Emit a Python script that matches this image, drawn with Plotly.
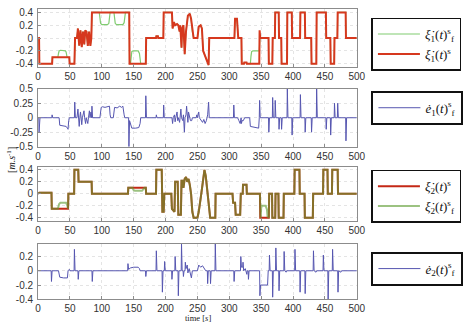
import plotly.graph_objects as go

# ---------------------------------------------------------------- data
# Each series is a list of (time [s], value) samples.
XI1 = [(0, 0), (1.5, 0), (2, -0.4), (22, -0.4), (22.5, -0.3), (49, -0.3), (49.5, -0.4), (57, -0.4), (58, 0), (61, 0),
       (62.5, 0.15), (64.5, -0.12), (66.5, 0.12), (68.5, -0.14), (70.5, 0.1), (72.5, -0.1), (74, 0.12), (76, 0.1),
       (78, -0.12), (80, 0.1), (82, -0.12), (83.5, 0),
       (84.5, 0.4), (143, 0.4), (143.5, -0.4), (169, -0.4), (169.5, 0), (185, 0), (185.5, 0.03), (188, 0.03), (188.5, 0),
       (196.5, 0), (197, 0.4), (210, 0.4), (211, 0.15), (213, 0.25), (215, 0.2), (218, 0.22), (220, 0.2), (222, 0.1),
       (223, 0.2), (225, -0.15), (226, 0.15), (228, 0.2), (230, -0.25), (232, 0.1), (235, 0.35), (238, 0.38), (240, 0.3),
       (242, 0.1), (244, 0), (250, 0), (252, 0.18), (255, 0.2), (257, 0.15), (259, -0.2), (262, -0.28), (265, -0.35),
       (267.5, -0.42), (268.5, 0), (308, 0), (309, 0.3), (312, 0.3), (314, 0), (319, 0), (319.5, -0.4), (323, -0.4),
       (323.5, -0.38), (327, -0.38), (327.5, -0.4), (347, -0.4), (347.5, 0.12), (348.5, 0), (361.5, 0), (362, -0.4),
       (367.5, -0.4), (368, 0), (371.5, 0), (372, 0.4), (377.5, 0.4), (378, 0), (381.5, 0), (382, -0.4), (390.5, -0.4),
       (391, 0.4), (398, 0.4), (398.5, 0), (411, 0), (411.5, 0.4), (418.5, 0.4), (419, 0), (428.5, 0), (429, -0.4),
       (436.5, -0.4), (437, 0.4), (451.5, 0.4), (452, 0), (458.5, 0), (459, -0.4), (464.5, -0.4), (465, 0), (469.5, 0),
       (470, 0.4), (482.5, 0.4), (483, 0), (500, 0)]

XI1_F = [(0, 0), (1.5, 0), (2, -0.4), (22, -0.4), (22.5, -0.3), (31, -0.3), (32, -0.24), (33, -0.2), (35, -0.19),
         (43, -0.2), (44, -0.22), (45.5, -0.3), (49, -0.3), (49.5, -0.4), (57, -0.4), (58, 0), (61, 0),
         (62.5, 0.15), (64.5, -0.12), (66.5, 0.12), (68.5, -0.14), (70.5, 0.1), (72.5, -0.1), (74, 0.12), (76, 0.1),
         (78, -0.12), (80, 0.1), (82, -0.12),
         (83.5, 0), (84.5, 0.4), (96, 0.4), (97, 0.3), (98, 0.23), (100, 0.21), (109, 0.21), (111, 0.23), (112, 0.32),
         (113, 0.4), (119, 0.4), (120, 0.3), (121, 0.23), (123, 0.21), (133, 0.21), (135, 0.24), (136, 0.32),
         (137, 0.4), (143, 0.4), (143.5, -0.4), (145, -0.4), (146, -0.28), (147, -0.21), (149, -0.2), (157, -0.2),
         (159, -0.24), (160, -0.36), (161, -0.4), (169, -0.4), (169.5, 0), (185, 0), (185.5, 0.03), (188, 0.03),
         (188.5, 0), (196.5, 0), (197, 0.4), (210, 0.4), (211, 0.15), (213, 0.25), (215, 0.2), (218, 0.22), (220, 0.2),
         (222, 0.1), (223, 0.2), (225, -0.15), (226, 0.15), (228, 0.2), (230, -0.25), (232, 0.1), (235, 0.35),
         (238, 0.38), (240, 0.3), (242, 0.1), (244, 0), (250, 0), (252, 0.18), (255, 0.2), (257, 0.15), (259, -0.2),
         (262, -0.28), (265, -0.35), (267.5, -0.42), (268.5, 0), (308, 0), (309, 0.3), (312, 0.3), (314, 0), (319, 0),
         (319.5, -0.4), (323, -0.4), (323.5, -0.38), (327, -0.38), (327.5, -0.4), (333, -0.4), (334, -0.28),
         (335, -0.21), (337, -0.2), (346, -0.2), (347, -0.2), (348, 0), (361.5, 0), (362, -0.4), (367.5, -0.4),
         (368, 0), (371.5, 0), (372, 0.4), (377.5, 0.4), (378, 0), (381.5, 0), (382, -0.4), (390.5, -0.4), (391, 0.4),
         (398, 0.4), (398.5, 0), (411, 0), (411.5, 0.4), (418.5, 0.4), (419, 0), (428.5, 0), (429, -0.4),
         (436.5, -0.4), (437, 0.4), (451.5, 0.4), (452, 0), (458.5, 0), (459, -0.4), (464.5, -0.4), (465, 0),
         (469.5, 0), (470, 0.4), (482.5, 0.4), (483, 0), (500, 0)]

E1 = [(0, 0), (1, 0), (1.5, -0.25), (2.5, -0.05), (3, 0), (21.5, 0), (22, 0.05), (23, 0), (33, 0), (34, -0.13),
      (40, -0.14), (44, -0.15), (46, -0.18), (47, -0.2), (48, -0.05), (49, 0), (57, 0), (57.5, 0.27), (58.5, 0),
      (61, 0), (62.5, 0.15), (63.5, 0), (64.5, -0.15), (65.5, 0), (66.5, 0.1), (67.5, 0), (68.5, -0.12), (69.5, 0),
      (72, 0.12), (73, 0), (74.5, -0.1), (75.5, 0), (78, -0.1), (79, 0), (80.5, 0.12), (81.5, 0), (83, 0.1), (84, 0),
      (84.5, 0.2), (85.5, 0), (97, 0), (99, 0.18), (101, 0.19), (105, 0.18), (109, 0.19), (112, 0.2), (113, 0.05),
      (114, 0), (118, 0), (120, 0.18), (124, 0.17), (128, 0.2), (131, 0.18), (133, 0.2), (135, 0.05), (136, 0),
      (142, 0), (142.5, -0.5), (143.5, -0.05), (145, -0.1), (147, -0.18), (153, -0.18), (158, -0.17), (160, -0.1),
      (161, 0), (168.5, 0), (169, 0.38), (170, 0), (185, 0), (185.5, 0.05), (186.5, 0), (196.5, 0), (197, 0.22),
      (198, 0), (210, 0), (211, -0.1), (212, 0), (214, 0.05), (215, -0.07), (216, 0), (218, 0.1), (219, -0.05),
      (220, 0), (222, -0.08), (223, 0.03), (224, 0.15), (225, 0), (227, -0.05), (228, 0.05), (229.5, -0.25),
      (230.5, 0), (232, 0.05), (233, 0.2), (234, 0), (235, -0.08), (236, 0.1), (237, 0.02), (239, -0.05),
      (241, -0.05), (242, 0), (248, 0), (249, 0.05), (250, 0), (252, 0.1), (253, 0), (256, -0.05), (258, -0.08),
      (260, -0.03), (262, -0.1), (264, -0.05), (266, 0.05), (267.5, 0.27), (268.5, 0), (306.5, 0), (307, 0.22),
      (308, 0), (313, 0), (315, -0.05), (317, -0.1), (318.5, 0), (319, -0.1), (320, -0.05), (322, -0.05), (324, 0),
      (332, 0), (333, -0.15), (340, -0.17), (346, -0.18), (347, 0), (347.5, 0.3), (348.5, 0), (361.5, 0),
      (362, -0.25), (363, 0), (367.5, 0), (368, 0.35), (369, 0), (371.5, 0), (372, 0.3), (373, 0), (377.5, 0),
      (378, -0.2), (379, 0), (381.5, 0), (382, -0.2), (383, 0), (390.5, 0), (391, 0.5), (392, 0), (398, 0),
      (398.5, -0.3), (399.5, 0), (411, 0), (411.5, 0.4), (412.5, 0), (418.5, 0), (419, -0.25), (420, 0),
      (428.5, 0), (429, -0.25), (430, 0), (436.5, 0), (437, 0.5), (438, 0), (451.5, 0), (452, -0.2), (453, 0),
      (458.5, 0), (459, -0.3), (460, 0), (464.5, 0), (465, 0.25), (466, 0), (469.5, 0), (470, 0.25), (471, 0),
      (482.5, 0), (483, -0.4), (484, 0), (500, 0)]

XI2 = [(0, 0), (2, 0.02), (21, 0.02), (21.5, -0.25), (47, -0.25), (47.5, 0), (56.5, 0), (57, 0.4), (63, 0.4),
       (63.5, 0.2), (84, 0.2), (84.5, 0), (141, 0), (141.5, 0.1), (169, 0.1), (169.5, 0), (185, 0), (185.5, 0.4),
       (194, 0.4), (195, -0.3), (197, -0.3), (198, 0), (209, 0), (210, -0.25), (214, -0.3), (215, 0.2), (219, 0.2),
       (220, -0.35), (224, -0.35), (225, 0.22), (227, 0.22), (228, 0.1), (230, 0.25), (232, 0.28), (234, 0.2),
       (236, 0.25), (238, 0.15), (240, 0), (242, -0.3), (244, -0.4), (250, -0.4), (252, -0.3), (256, 0.0),
       (259, 0.28), (261, 0.4), (263, 0.3), (265, 0.1), (268, -0.2), (270, -0.4), (278, -0.4), (278.5, 0), (305, 0),
       (306, -0.15), (309, -0.15), (310, -0.35), (317, -0.35), (318, 0), (321, 0), (321.5, 0.15), (327, 0.15),
       (327.5, 0), (348, 0), (348.5, -0.4), (362, -0.4), (362.5, 0), (367, 0), (367.5, -0.4), (372, -0.4),
       (372.5, 0), (377, 0), (377.5, -0.4), (385, -0.4), (385.5, 0), (402, 0), (402.5, 0.4), (410, 0.4), (410.5, 0),
       (418, 0), (418.5, -0.4), (431, -0.4), (431.5, 0), (447, 0), (447.5, 0.4), (454, 0.4), (454.5, 0), (461, 0),
       (461.5, 0.4), (470, 0.4), (470.5, 0), (500, 0)]

XI2_F = [(0, 0), (2, 0.02), (21, 0.02), (21.5, -0.25), (31, -0.25), (33, -0.17), (35, -0.15), (44, -0.15),
         (46, -0.2), (47, -0.25), (47.5, 0), (56.5, 0), (57, 0.4), (63, 0.4), (63.5, 0.2), (84, 0.2), (84.5, 0),
         (141, 0), (141.5, 0.1), (148, 0.1), (150, 0.06), (152, 0.05), (163, 0.05), (165, 0.08), (167, 0.1),
         (169, 0.1), (169.5, 0), (185, 0), (185.5, 0.4), (194, 0.4), (195, -0.3), (197, -0.3), (198, 0), (209, 0),
         (210, -0.25), (214, -0.3), (215, 0.2), (219, 0.2), (220, -0.35), (224, -0.35), (225, 0.22), (227, 0.22),
         (228, 0.1), (230, 0.25), (232, 0.28), (234, 0.2), (236, 0.25), (238, 0.15), (240, 0), (242, -0.3),
         (244, -0.4), (250, -0.4), (252, -0.3), (256, 0.0), (259, 0.28), (261, 0.4), (263, 0.3), (265, 0.1),
         (268, -0.2), (270, -0.4), (278, -0.4), (278.5, 0), (305, 0), (306, -0.15), (309, -0.15), (310, -0.35),
         (317, -0.35), (318, 0), (321, 0), (321.5, 0.15), (327, 0.15), (327.5, 0), (348, 0), (348.5, -0.4),
         (349, -0.4), (350, -0.24), (351, -0.2), (357, -0.2), (359, -0.26), (360, -0.38), (362, -0.4), (362.5, 0),
         (367, 0), (367.5, -0.4), (372, -0.4), (372.5, 0), (377, 0), (377.5, -0.4), (385, -0.4), (385.5, 0),
         (402, 0), (402.5, 0.4), (410, 0.4), (410.5, 0), (418, 0), (418.5, -0.4), (431, -0.4), (431.5, 0), (447, 0),
         (447.5, 0.4), (454, 0.4), (454.5, 0), (461, 0), (461.5, 0.4), (470, 0.4), (470.5, 0), (500, 0)]

E2 = [(0, 0), (20.5, 0), (21, -0.15), (22, 0), (32, 0), (34, -0.09), (40, -0.1), (46, -0.1), (47, 0), (49, 0.02),
      (50, 0), (56.5, 0), (57, 0.3), (58, 0), (62.5, 0), (63, -0.12), (64, 0), (84.5, 0), (85, -0.15), (86, 0),
      (140.5, 0), (141, 0.1), (142, 0.02), (145, 0.04), (150, 0.05), (157, 0.05), (159, 0.03), (160, 0),
      (168.5, 0), (169, -0.08), (170, 0), (185, 0), (185.5, 0.28), (186.5, 0), (194.5, 0), (195, -0.3), (196, 0),
      (198, 0), (198.5, 0.13), (199.5, 0), (209.5, 0), (210, -0.12), (211, 0), (214.5, 0), (215, 0.2), (216, 0),
      (219.5, 0), (220, -0.35), (221, 0), (224.5, 0), (225, 0.38), (226, 0), (227.5, 0), (228, -0.08), (229, 0),
      (230.5, 0), (231, 0.12), (232, 0.03), (234, 0.08), (235, -0.03), (237, 0.03), (239, -0.06), (240.5, -0.1),
      (242, 0), (250, 0), (252, 0.08), (255, 0.05), (258, 0.07), (261, 0.03), (263, 0), (265.5, 0), (266, -0.18),
      (267, 0), (270, 0), (270.5, -0.18), (271.5, 0), (277.5, 0), (278, 0.38), (279, 0), (307, 0), (307.5, -0.15),
      (308.5, 0), (317.5, 0), (318, 0.2), (319, 0.05), (321, 0.05), (321.5, 0.12), (322.5, 0), (325, 0.03),
      (327.5, -0.05), (328, 0), (329.5, 0), (330, -0.12), (331, 0), (347.5, 0), (348, -0.35), (349, -0.2),
      (360, -0.2), (361, 0), (362.5, 0), (363, 0.22), (364, 0), (367.5, 0), (368, -0.37), (369, 0), (372.5, 0),
      (373, 0.32), (374, 0), (377.5, 0), (378, -0.28), (379, 0), (385.5, 0), (386, 0.27), (387, 0), (389, -0.02),
      (390, 0), (402.5, 0), (403, 0.3), (404, 0), (410.5, 0), (411, -0.3), (412, 0), (418.5, 0), (419, -0.32),
      (420, 0), (431.5, 0), (432, 0.28), (433, 0), (436, -0.02), (437, 0), (447, 0), (447.5, 0.22), (448.5, 0),
      (454.5, 0), (455, -0.4), (456, 0), (461.5, 0), (462, 0.3), (463, 0), (470, 0), (470.5, -0.3), (471.5, 0),
      (475, -0.02), (476, 0), (500, 0)]

X_TICKS = list(range(0, 501, 50))
Y_TICKS_1 = [-0.4, -0.2, 0, 0.2, 0.4]
Y_LABELS_1 = ["-0.4", "-0.2", "0", "0.2", "0.4"]
Y_TICKS_2 = [-0.5, -0.25, 0, 0.25, 0.5]
Y_LABELS_2 = ["-0.5", "-0.25", "0", "0.25", "0.5"]
Y_TICKS_4 = [-0.4, -0.2, 0, 0.2]
Y_LABELS_4 = ["-0.4", "-0.2", "0", "0.2"]

# ---------------------------------------------------------------- styling
W, H = 474, 327
RED = "rgb(214,56,30)"
GREEN = "rgb(128,204,112)"
BLUE = "rgb(86,86,176)"
RED2 = "rgb(196,40,22)"
GREEN2 = "rgba(96,156,52,0.62)"
AXIS_COL = "#8c8c8c"
TICK_FONT = dict(family="Liberation Sans, Arial, sans-serif", size=10, color="#333")
LEG_FONT = dict(family="Liberation Serif, DejaVu Serif, serif", size=13, color="#111")

X_DOM = [36 / W, 363 / W]


def ydom(top_px, bot_px):
    return [1 - bot_px / H, 1 - top_px / H]


def xs(pts):
    return [p[0] for p in pts]


def ys(pts):
    return [p[1] for p in pts]


fig = go.Figure()


def add(pts, name, color, width, ax, leg):
    fig.add_trace(go.Scatter(
        x=xs(pts), y=ys(pts), mode="lines", name=name,
        line=dict(color=color, width=width),
        xaxis="x" + ax, yaxis="y" + ax, legend=leg, hoverinfo="skip"))


# panel 1: actual vs filtered
add(XI1_F, "<i>ξ̇</i><sub>1</sub>(<i>t</i>)<sup>s</sup><sub>f</sub>", GREEN, 1.2, "", "legend")
add(XI1, "<i>ξ̇</i><sub>1</sub>(<i>t</i>)<sup>s</sup>", RED, 2.0, "", "legend")
# panel 2: error
add(E1, "<i>ė</i><sub>1</sub>(<i>t</i>)<sup>s</sup><sub>f</sub>", BLUE, 1.0, "2", "legend2")
# panel 3: actual vs filtered
add(XI2, "<i>ξ̇</i><sub>2</sub>(<i>t</i>)<sup>s</sup>", RED2, 2.0, "3", "legend3")
add(XI2_F, "<i>ξ̇</i><sub>2</sub>(<i>t</i>)<sup>s</sup><sub>f</sub>", GREEN2, 2.0, "3", "legend3")
# panel 4: error
add(E2, "<i>ė</i><sub>2</sub>(<i>t</i>)<sup>s</sup><sub>f</sub>", BLUE, 1.0, "4", "legend4")


def xaxis(anchor):
    return dict(domain=X_DOM, range=[0, 500], tickvals=X_TICKS, anchor=anchor,
                showline=True, mirror=True, linecolor=AXIS_COL, linewidth=1,
                ticks="inside", ticklen=3, tickcolor=AXIS_COL,
                showgrid=True, gridcolor="#e4e4e4", griddash="dot", zeroline=False,
                tickfont=TICK_FONT, ticklabelstandoff=0)


def yaxis(anchor, dom, rng, tv, tt):
    return dict(domain=dom, range=rng, tickvals=tv, ticktext=tt, anchor=anchor,
                showline=True, mirror=True, linecolor=AXIS_COL, linewidth=1,
                ticks="inside", ticklen=3, tickcolor=AXIS_COL,
                showgrid=True, gridcolor="#e4e4e4", griddash="dot", zeroline=False,
                tickfont=TICK_FONT, ticklabelstandoff=2)


def legend(top_px, bw):
    return dict(x=378 / W, y=1 - top_px / H, xanchor="left", yanchor="top",
                bgcolor="white", bordercolor="#111", borderwidth=bw,
                font=LEG_FONT, traceorder="normal", itemwidth=42, tracegroupgap=0)


fig.update_layout(
    width=W, height=H, margin=dict(l=0, r=0, t=0, b=0),
    paper_bgcolor="white", plot_bgcolor="white", showlegend=True,
    xaxis=xaxis("y"), xaxis2=xaxis("y2"), xaxis3=xaxis("y3"), xaxis4=xaxis("y4"),
    yaxis=yaxis("x", ydom(3.3, 63.3), [-0.45, 0.45], Y_TICKS_1, Y_LABELS_1),
    yaxis2=yaxis("x2", ydom(86, 146), [-0.5, 0.5], Y_TICKS_2, Y_LABELS_2),
    yaxis3=yaxis("x3", ydom(167, 223), [-0.45, 0.45], Y_TICKS_1, Y_LABELS_1),
    yaxis4=yaxis("x4", ydom(246.7, 304.5), [-0.4, 0.38], Y_TICKS_4, Y_LABELS_4),
    legend=legend(12, 1.5), legend2=legend(88, 2), legend3=legend(170, 1.5), legend4=legend(255, 2),
    annotations=[
        dict(text="time [<i>s</i>]", x=200 / W, y=1 - 323.5 / H, xref="paper", yref="paper",
             xanchor="center", yanchor="middle", showarrow=False,
             font=dict(family="Liberation Serif, serif", size=8.5, color="#222")),
        dict(text="[<i>m.s</i><sup>-1</sup>]", x=8 / W, y=1 - 160 / H, xref="paper", yref="paper",
             xanchor="center", yanchor="middle", textangle=-90, showarrow=False,
             font=dict(family="Liberation Serif, serif", size=10, color="#222")),
    ],
)

fig.write_html("out.html")
